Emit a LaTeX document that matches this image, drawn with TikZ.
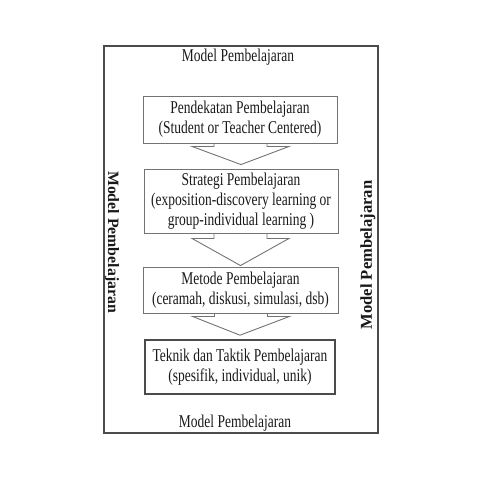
\documentclass[tikz,border=0pt]{standalone}
\usepackage{fontspec}
\setmainfont{Liberation Serif}
\newfontfamily\narrowfont{Liberation Serif}[FakeStretch=0.75]
\usetikzlibrary{calc}
\definecolor{boxgray}{RGB}{115,115,115}
\definecolor{framegray}{RGB}{75,75,75}
\definecolor{txt}{RGB}{25,25,25}
\tikzset{
  stagebox/.style={draw=boxgray, line width=0.9pt, inner sep=0pt, align=center,
    text=txt, font=\narrowfont\fontsize{18}{20}\selectfont},
  lastbox/.style={stagebox, draw=framegray, line width=1.6pt},
  framebox/.style={draw=framegray, line width=1.4pt, inner sep=0pt,
    minimum width=274pt, minimum height=387pt},
  hlabel/.style={text=txt, inner sep=0pt, font=\narrowfont\fontsize{18}{20}\selectfont},
  vlabel/.style={text=txt, inner sep=0pt, font=\bfseries\fontsize{15.8}{18}\selectfont},
  blockarrow/.style={draw=boxgray, line width=0.9pt, line join=miter}
}
\begin{document}
\begin{tikzpicture}[x=1pt,y=-1pt]
\useasboundingbox (0,0) rectangle (480,480);
\node[framebox] (frame) at (241,239.5) {};
\node[hlabel] (top) at (238,57) {Model Pembelajaran};
\node[hlabel] (bottom) at (235,423) {Model Pembelajaran};
\node[vlabel, rotate=-90] (left) at (112,242) {Model Pembelajaran};
\node[vlabel, rotate=90, font=\bfseries\fontsize{16.6}{18}\selectfont] (right) at (368,255) {Model Pembelajaran};

\node[stagebox, minimum width=194pt, minimum height=47pt] (b1) at (240,119.5)
  {Pendekatan Pembelajaran\\(Student or Teacher Centered)};
\node[stagebox, minimum width=194pt, minimum height=64pt] (b2) at (241,201)
  {Strategi Pembelajaran\\(exposition-discovery learning or\\group-individual learning )};
\node[stagebox, minimum width=195pt, minimum height=46pt] (b3) at (240.5,290)
  {Metode Pembelajaran\\(ceramah, diskusi, simulasi, dsb)};
\node[lastbox, minimum width=190pt, minimum height=54pt] (b4) at (240,367)
  {Teknik dan Taktik Pembelajaran\\(spesifik, individual, unik)};

\draw[blockarrow] ($(b1.south)+(-26,0)$) |- ($(b1.south)+(-48,3)$)
  -- ($(b2.north)+(0,-4)$) -- ($(b1.south)+(49,3)$) -| ($(b1.south)+(27,0)$);
\draw[blockarrow] ($(b2.south)+(-27,0)$) |- ($(b2.south)+(-49,5)$)
  -- ($(b3.north)+(0,-1)$) -- ($(b2.south)+(48,5)$) -| ($(b2.south)+(26,0)$);
\draw[blockarrow] ($(b3.south)+(-26,0)$) |- ($(b3.south)+(-48,3)$)
  -- ($(b4.north)+(0,-4)$) -- ($(b3.south)+(49,3)$) -| ($(b3.south)+(27,0)$);
\end{tikzpicture}
\end{document}
